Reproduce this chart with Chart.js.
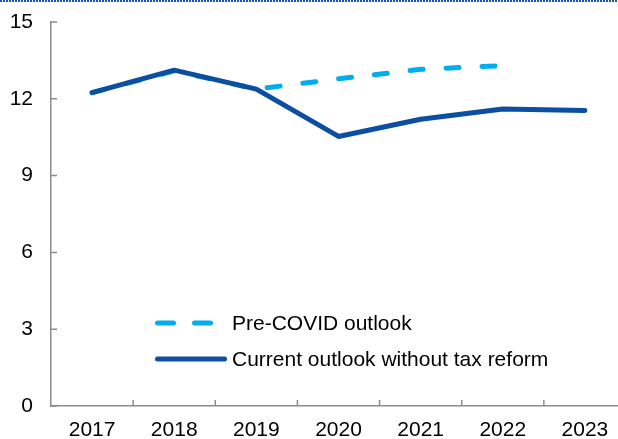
<!DOCTYPE html>
<html>
<head>
<meta charset="utf-8">
<script src="https://cdn.jsdelivr.net/npm/chart.js@4.4.1/dist/chart.umd.min.js"></script>
<style>
  html, body { margin: 0; padding: 0; background: #fff; overflow: hidden; width: 618px; height: 439px; }
  #wrap { position: absolute; left: 0; top: 0; width: 640px; height: 439px; }
  #topline { position: absolute; left: 0; top: 0; width: 618px; height: 2px;
    background: repeating-linear-gradient(to right, #1d56b0 0 2px, #ffffff 2px 3px); z-index: 2; }
</style>
</head>
<body>
<div id="topline"></div>
<div id="wrap"><canvas id="c" width="640" height="439"></canvas></div>
<script>
const years = ['2017', '2018', '2019', '2020', '2021', '2022', '2023'];
const preCovid = [12.24, 13.09, 12.38, 12.78, 13.15, 13.3, null];
const current = [12.24, 13.12, 12.38, 10.53, 11.2, 11.6, 11.54];
const yTicks = [0, 3, 6, 9, 12, 15];
const seriesNames = ['Pre-COVID outlook', 'Current outlook without tax reform'];

const axisColor = '#8c8c8c';
const FONT = '"Liberation Sans", Arial, sans-serif';

const innerTicks = {
  id: 'innerTicks',
  afterDraw(chart) {
    const ctx = chart.ctx, xs = chart.scales.x, ys = chart.scales.y;
    const a = chart.chartArea;
    ctx.save();
    ctx.strokeStyle = axisColor;
    ctx.lineWidth = 1.5;
    ctx.beginPath();
    yTicks.forEach(v => {
      const y = ys.getPixelForValue(v);
      ctx.moveTo(a.left, y); ctx.lineTo(a.left + 6, y);
    });
    for (let i = 1; i < years.length; i++) {
      const x = (xs.getPixelForValue(i - 1) + xs.getPixelForValue(i)) / 2;
      ctx.moveTo(x, a.bottom); ctx.lineTo(x, a.bottom - 6);
    }
    ctx.stroke();
    ctx.restore();
  }
};

const legendPlugin = {
  id: 'insideLegend',
  afterDraw(chart) {
    const ctx = chart.ctx;
    ctx.save();
    const ds = chart.data.datasets;
    const rows = [{ d: ds[0], y: 323 }, { d: ds[1], y: 359 }];
    rows.forEach(r => {
      ctx.beginPath();
      ctx.strokeStyle = r.d.borderColor;
      ctx.lineWidth = r.d.borderWidth;
      ctx.lineCap = 'round';
      if (r.d.borderDash && r.d.borderDash.length) {
        ctx.setLineDash([16, 21]);
        ctx.moveTo(157.5, r.y); ctx.lineTo(210.5, r.y);
      } else {
        ctx.setLineDash([]);
        ctx.moveTo(157.5, r.y); ctx.lineTo(224.5, r.y);
      }
      ctx.stroke();
      ctx.setLineDash([]);
      ctx.fillStyle = '#000';
      ctx.font = '21px ' + FONT;
      ctx.textBaseline = 'middle';
      ctx.textAlign = 'left';
      ctx.fillText(r.d.label, 232, r.y + 1);
    });
    ctx.restore();
  }
};

new Chart(document.getElementById('c'), {
  type: 'line',
  data: {
    labels: years,
    datasets: [
      {
        label: seriesNames[0],
        data: preCovid,
        borderColor: '#00aeef',
        borderWidth: 5,
        borderDash: [13, 23],
        borderCapStyle: 'round',
        pointRadius: 0,
        tension: 0,
        order: 2,
        spanGaps: false
      },
      {
        label: seriesNames[1],
        data: current,
        borderColor: '#0b4ea2',
        borderWidth: 5,
        borderCapStyle: 'round',
        borderJoinStyle: 'round',
        pointRadius: 0,
        tension: 0,
        order: 1
      }
    ]
  },
  options: {
    responsive: false,
    animation: false,
    devicePixelRatio: 1,
    layout: { padding: { left: 0, right: 14, top: 22, bottom: 0 } },
    plugins: { legend: { display: false }, tooltip: { enabled: false } },
    scales: {
      x: {
        type: 'category',
        offset: true,
        grid: { display: true, drawOnChartArea: false, drawTicks: false, color: 'rgba(0,0,0,0)' },
        border: { display: true, color: axisColor, width: 1.5 },
        ticks: { color: '#000', font: { family: FONT, size: 21 }, padding: 12, maxRotation: 0, autoSkip: false },
        afterFit(s) { s.height = 33; }
      },
      y: {
        min: 0, max: 15,
        afterBuildTicks(s) { s.ticks = yTicks.map(v => ({ value: v })); },
        grid: { display: true, drawOnChartArea: false, drawTicks: false, color: 'rgba(0,0,0,0)' },
        border: { display: true, color: axisColor, width: 1.5 },
        ticks: { color: '#000', font: { family: FONT, size: 21 }, padding: 18 },
        afterFit(s) { s.width = 51; s.paddingTop = 0; s.paddingBottom = 0; }
      }
    }
  },
  plugins: [innerTicks, legendPlugin]
});
</script>
</body>
</html>
